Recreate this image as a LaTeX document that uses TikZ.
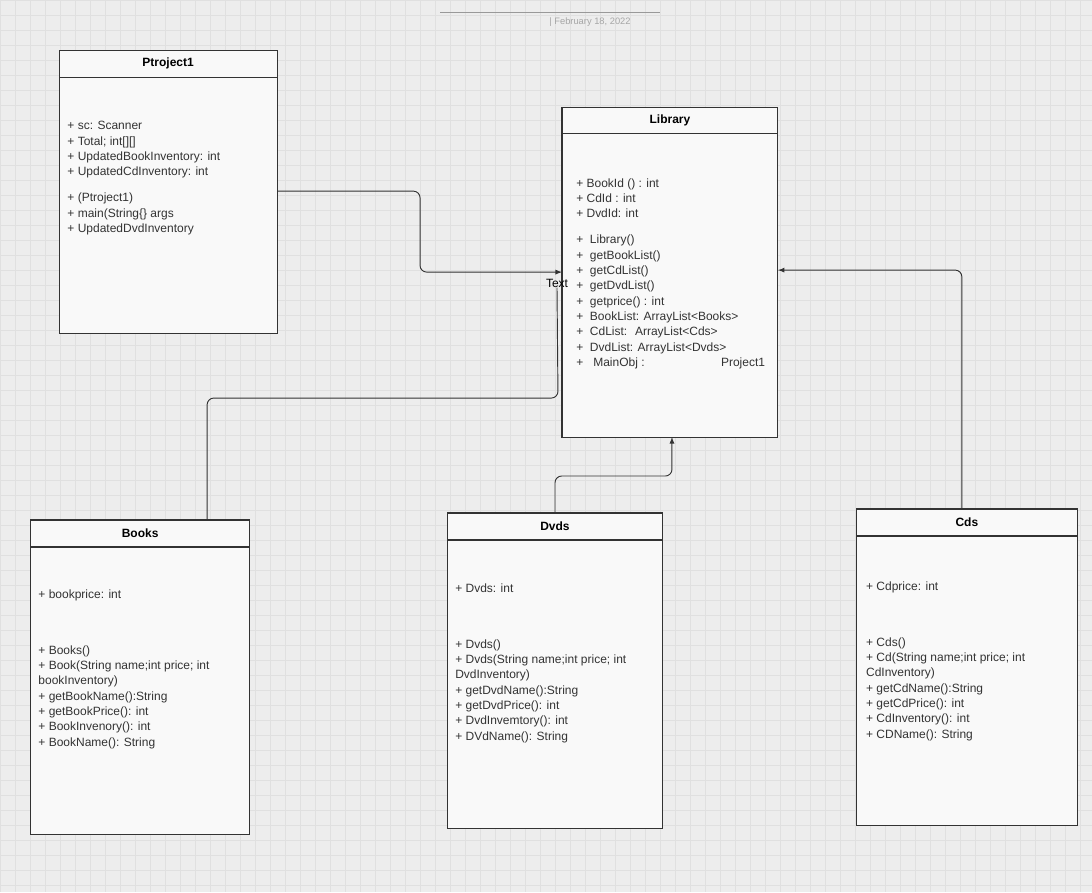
\documentclass[tikz,border=0pt]{standalone}
\usepackage{fontspec}
\setmainfont{Liberation Sans}
\begin{document}
\begin{tikzpicture}[x=0.75pt,y=-0.75pt,
  cls/.style={draw=black!80,line width=0.8pt,fill=white!95!gray},
  hdr/.style={font=\fontsize{9}{11}\selectfont\bfseries},
  body/.style={anchor=north west,align=left,inner sep=0pt,font=\fontsize{9}{11.5}\selectfont,text=black!80},
  conn/.style={draw=black!80,line width=0.7pt,rounded corners=5pt},
  tip/.style={-latex}]
\fill[black!7] (0,0) rectangle (1092,892);
\foreach \i in {0,15,...,1090} \draw[black!12,line width=0.3pt] (\i,0) -- (\i,892);
\foreach \j in {0,15,...,890} \draw[black!12,line width=0.3pt] (0,\j) -- (1092,\j);
\draw[black!40] (440,12) -- (660,12);
\node[text=black!35,font=\fontsize{7}{8}\selectfont] (date) at (590,22) {| February 18, 2022};
% classes
\foreach \n/\a/\b/\c/\d/\h in {P/59/50/277/333/77, L/562/107/778/437/133, B/30/520/249/835/547, D/447/513/663/829/540, C/857/509/1078/826/536}{
  \draw[cls] (\a,\b) rectangle (\c,\d);
  \draw[black!80,line width=0.8pt] (\a,\h) -- (\c,\h);
  \coordinate (\n nw) at (\a,\b);
}
\node[hdr] (Pt) at (168,63) {Ptroject1};
\node[hdr] (Lt) at (670,120) {Library};
\node[hdr] (Bt) at (140,533) {Books};
\node[hdr] (Dt) at (555,526) {Dvds};
\node[hdr] (Ct) at (967,522) {Cds};
\node[body] (Pb) at (67,121) {+ sc: Scanner\\+ Total; int[][]\\+ UpdatedBookInventory: int\\+ UpdatedCdInventory: int\\[8pt]+ (Ptroject1)\\+ main(String\{\} args\\+ UpdatedDvdInventory};
\node[body] (Lb) at (576,178) {+ BookId () :  int\\+ CdId : int\\+ DvdId: int\\[8pt]+ \ Library()\\+ \ getBookList()\\+ \ getCdList()\\+ \ getDvdList()\\+ \ getprice() : int\\+ \ BookList: ArrayList<Books>\\+ \ CdList: \ ArrayList<Cds>\\+ \ DvdList: ArrayList<Dvds>\\+ \ \ MainObj : \hspace{6em}Project1};
\node[body] (Bb) at (38,590) {+ bookprice: int\\[30pt]+ Books()\\+ Book(String name;int price; int\\bookInventory)\\+ getBookName():String\\+ getBookPrice(): int\\+ BookInvenory(): int\\+ BookName(): String};
\node[body] (Db) at (455,584) {+ Dvds: int\\[30pt]+ Dvds()\\+ Dvds(String name;int price; int\\DvdInventory)\\+ getDvdName():String\\+ getDvdPrice(): int\\+ DvdInvemtory(): int\\+ DVdName(): String};
\node[body] (Cb) at (866,582) {+ Cdprice: int\\[30pt]+ Cds()\\+ Cd(String name;int price; int\\CdInventory)\\+ getCdName():String\\+ getCdPrice(): int\\+ CdInventory(): int\\+ CDName(): String};
\node[font=\fontsize{9}{11}\selectfont,inner sep=0pt] (txt) at (557,283) {Text};
% connectors
\coordinate (p1) at (277,191);
\coordinate (l1) at (562,272);
\draw[conn,tip] (p1) -- (420,191) -- (420,272) -- (l1);
\coordinate (b1) at (207,520);
\draw[conn] (b1) -- (207,398) -- (558,398) -- (txt.south);
\coordinate (d1) at (555,513);
\coordinate (l2) at (672,437);
\draw[conn,tip] (d1) -- (555,476) -- (672,476) -- (l2);
\coordinate (c1) at (962,509);
\coordinate (l3) at (778,270);
\draw[conn,tip] (c1) -- (962,270) -- (l3);
\end{tikzpicture}
\end{document}
